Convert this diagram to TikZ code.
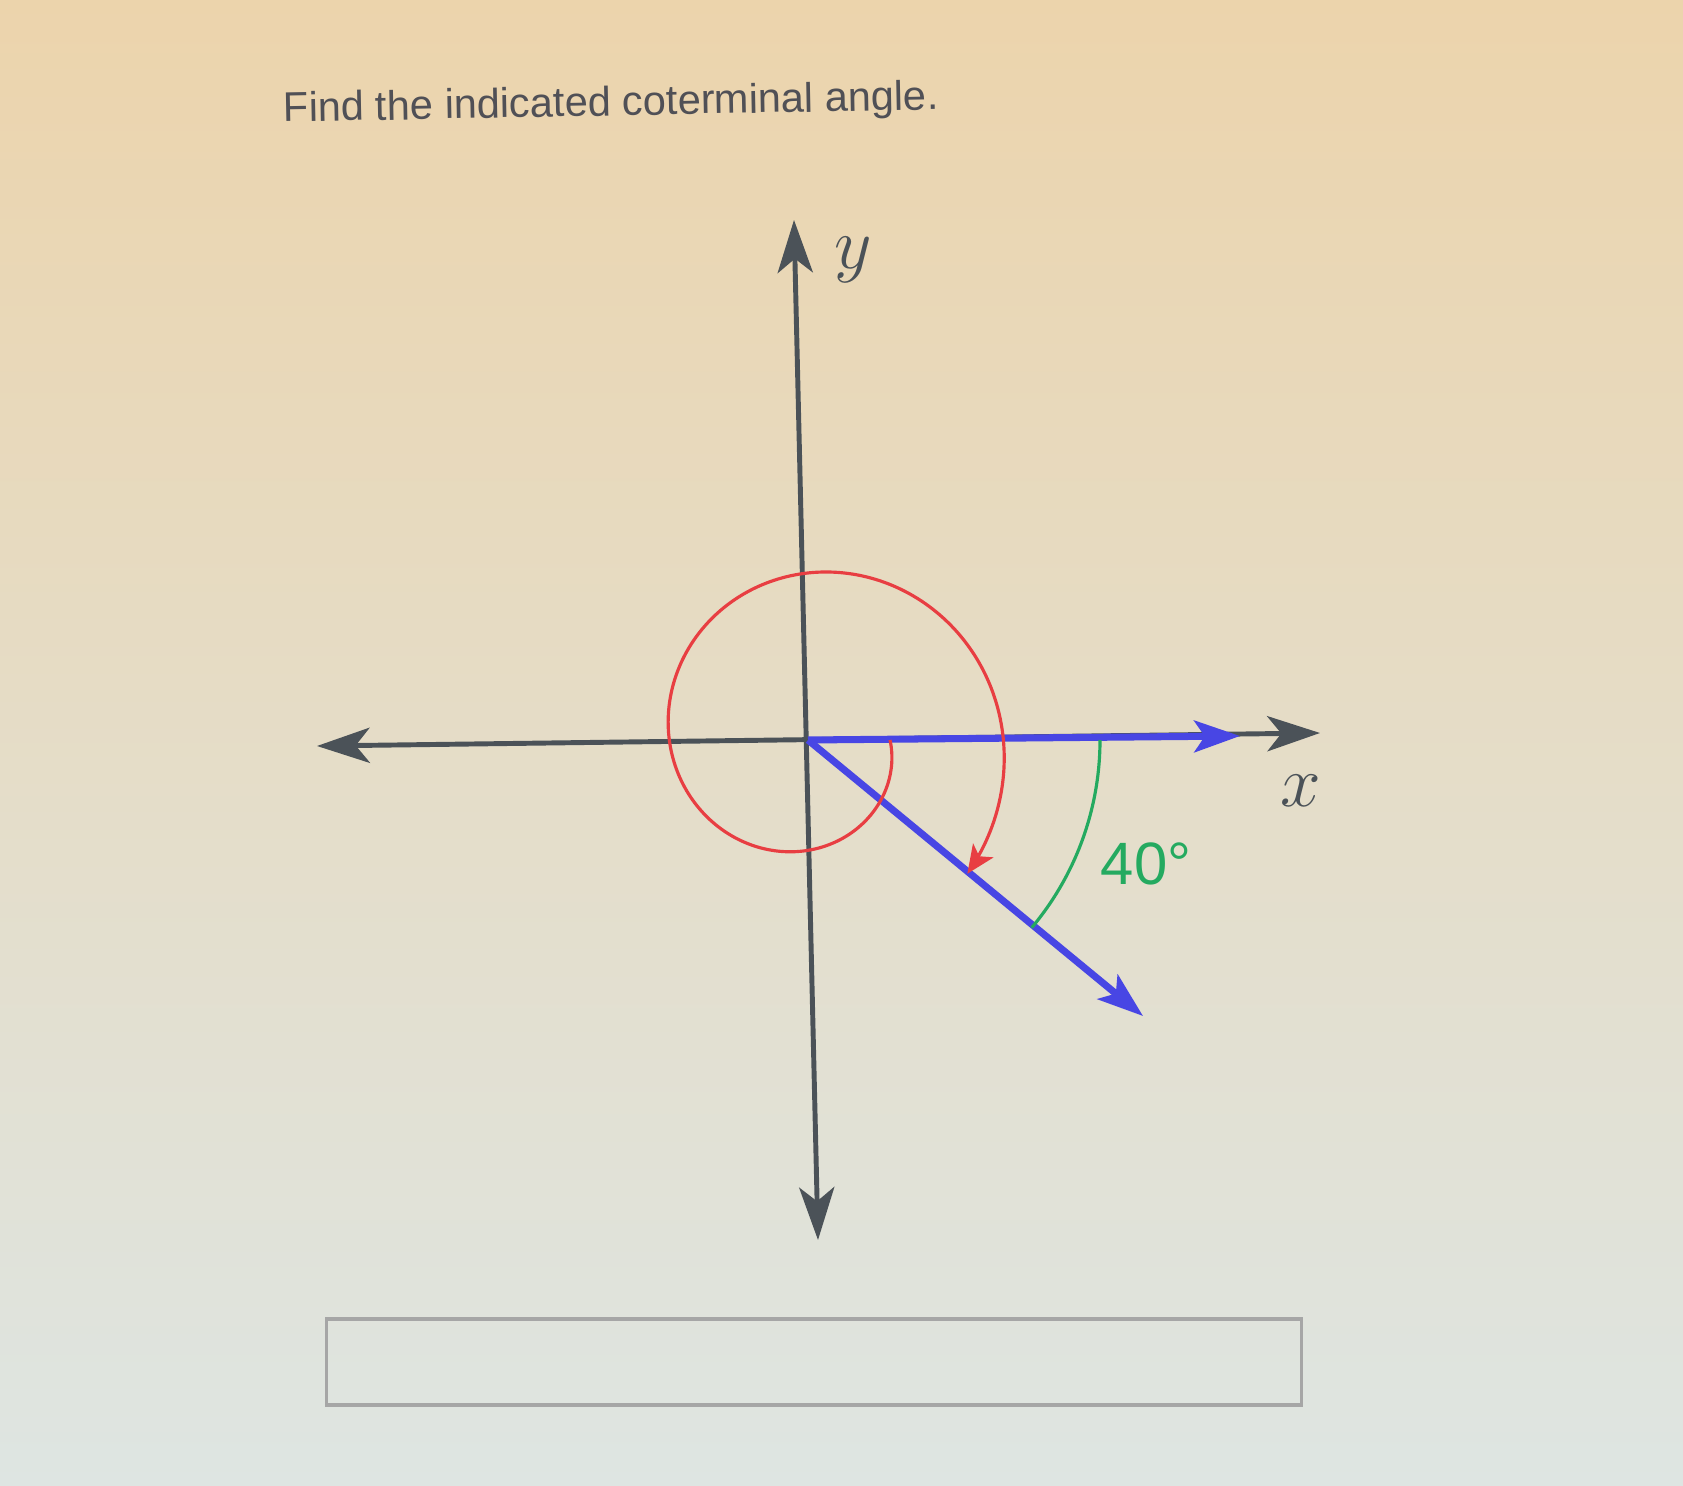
\documentclass[tikz,border=0pt]{standalone}
\usepackage{fontspec}
\setmainfont{Liberation Sans}
\usetikzlibrary{arrows.meta,calc,positioning}

\definecolor{bgtop}{RGB}{236,212,172}
\definecolor{bgbot}{RGB}{222,229,226}
\definecolor{axisgray}{RGB}{75,82,88}
\definecolor{textgray}{RGB}{80,80,86}
\definecolor{rayblue}{RGB}{72,70,228}
\definecolor{spiralred}{RGB}{232,62,66}
\definecolor{anglegreen}{RGB}{36,170,96}

\begin{document}
\begin{tikzpicture}[x=0.01cm, y=0.01cm,
        axis/.style   = {axisgray, line width=1.4pt,
                         {Stealth[length=15pt, width=10pt, inset=4pt]}-{Stealth[length=15pt, width=10pt, inset=4pt]}},
        ray/.style    = {rayblue, line width=2pt, -{Stealth[length=13pt, width=9pt, inset=3pt]}},
        spiral/.style = {spiralred, line width=0.9pt, -{Stealth[length=8pt, width=7pt, inset=2pt]}},
        every node/.style = {inner sep=0pt},
                            ]
    % background, fixes the page size
    \shade[top color=bgtop, bottom color=bgbot] (-808,-745) rectangle (875,740);
    %
    \node[textgray, rotate=1.1, font=\fontsize{11.8}{14}\selectfont] (title) at (-197,635) {Find the indicated coterminal angle.};
    %
    \coordinate (O)  at (0,0);
    \coordinate (xl) at (-491,-6);
    \coordinate (xr) at (512,7);
    \coordinate (yt) at (-14,520);
    \coordinate (yb) at (10,-500);
    \coordinate (px) at (432,4);    % terminal side 0
    \coordinate (pt) at (335,-276); % terminal side -40
    %
    \draw[axis] (xl) -- (xr);
    \draw[axis] (yb) -- (yt);
    \node[axisgray, font=\fontsize{20}{24}\selectfont] (ylab) at (45,480) {$y$};
    \node[axisgray, font=\fontsize{20}{24}\selectfont] (xlab) at (493,-51) {$x$};
    %
    \draw[ray] (O) -- (px);
    \draw[ray] (O) -- (pt);
    %
    \draw[anglegreen, line width=0.9pt] (292,0) arc[start angle=0, end angle=-40, radius=292];
    \node[anglegreen, font=\fontsize{17}{20}\selectfont] (ang) at (338,-124) {40°};
    %
    \draw[spiral] plot[domain=0:-400, samples=240, smooth]
        ({(82-126*\x/400)*cos(\x)}, {(82-126*\x/400)*sin(\x)});
    %
    \node[draw=gray!70, line width=0.9pt, minimum width=9.74cm, minimum height=0.86cm] (answer) at (6,-622) {};
\end{tikzpicture}
\end{document}
